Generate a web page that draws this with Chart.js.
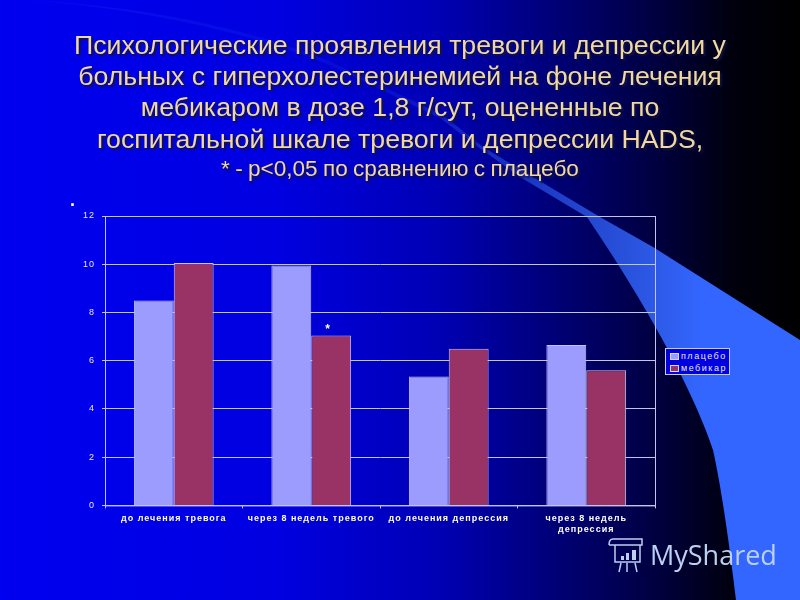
<!DOCTYPE html>
<html>
<head>
<meta charset="utf-8">
<style>
html, body { margin: 0; padding: 0; }
body { width: 800px; height: 600px; overflow: hidden; position: relative; background: linear-gradient(90deg, #0000f0 0%, #0000e0 35%, #0000b4 55%, #000074 70%, #000040 82%, #00000c 92%, #000000 100%); font-family: "Liberation Sans", Arial, sans-serif; }
#decor { position: absolute; left: 0; top: 0; }
#chartBox { position: absolute; left: 0; top: 0; width: 800px; height: 600px; }
.title { position: absolute; left: 0; width: 800px; text-align: center; color: #f0d8a0; text-shadow: 2px 2px 2px #14143c; white-space: nowrap; }
.t1 { font-size: 26.7px; line-height: 31.2px; top: 30px; }
.t2 { font-size: 22.6px; line-height: 24px; top: 157px; word-spacing: -1px; }
#dot { position: absolute; left: 70px; top: 190px; color: #fff; font-size: 18px; font-weight: bold; }
#legend { position: absolute; left: 665px; top: 348px; width: 65px; height: 27px; box-sizing: border-box; border: 1px solid #c8c8f0; background: #0000e0; color: #e8e8ff; font-size: 9px; letter-spacing: 1.5px; padding-top: 1px; }
#legend div { height: 12px; line-height: 12px; padding-left: 15px; position: relative; }
#legend i { position: absolute; left: 4px; top: 3px; width: 7px; height: 5px; border: 1px solid #d8d8f4; }
#wm { position: absolute; left: 650px; top: 536px; font-family: "Open Sans", sans-serif; font-size: 27px; color: #bcd0f0; }
</style>
</head>
<body>
<svg id="decor" width="800" height="600" viewBox="0 0 800 600">
  <defs>
    <linearGradient id="sw" gradientUnits="userSpaceOnUse" x1="380" y1="0" x2="700" y2="0">
      <stop offset="0" stop-color="#3366ff" stop-opacity="0.12"/>
      <stop offset="1" stop-color="#3366ff" stop-opacity="1"/>
    </linearGradient>
  </defs>
  <path d="M30 0 Q 200 10 327 60 L 443 115 L 483 147 L 600 217 L 653 247 L 800 340 L 800 600 L 736 600 C 730 550 722 490 713 450 C 695 395 650 310 587 217 L 520 177 L 478 147 L 440 118 L 327 64 Q 200 14 30 0 Z" fill="url(#sw)"/>
  <g fill="none" stroke="#bcd0f0" stroke-width="1.5">
    <path d="M609 545 h33 v-6 h-29 q-4 0 -4 6 M615 545 v17 h25 v-17 M621 563 l-2 9 M627 563 v9 M635 563 l2 9"/>
  </g>
  <g fill="#bcd0f0">
    <rect x="621" y="556" width="3" height="4"/>
    <rect x="626" y="553" width="3" height="7"/>
    <rect x="632" y="550" width="4" height="10"/>
  </g>
</svg>
<div id="chartBox"><canvas id="chart" width="800" height="600"></canvas></div>
<div class="title t1">Психологические проявления тревоги и депрессии у<br>больных с гиперхолестеринемией на фоне лечения<br>мебикаром в дозе 1,8 г/сут, оцененные по<br>госпитальной шкале тревоги и депрессии HADS,</div>
<div class="title t2">* - p&lt;0,05 по сравнению с плацебо</div>
<div id="dot">.</div>
<div id="legend"></div>
<div id="wm">MyShared</div>

<script src="https://cdn.jsdelivr.net/npm/chart.js@4"></script>
<script>
// Данные диаграммы
const categories = ['до лечения тревога', 'через 8 недель тревого', 'до лечения депрессия', ['через 8 недель', 'депрессия']];
const placebo = [8.5, 9.95, 5.35, 6.65];
const mebikar = [10.05, 7.05, 6.5, 5.6];
const mebikarMarks = ['', '*', '', ''];
const yTicks = [0, 2, 4, 6, 8, 10, 12];
const seriesNames = ['плацебо', 'мебикар'];
const seriesColors = ['#9c9cff', '#993366'];

const lineColor = '#c4c4f0';

// Легенда
const legend = document.getElementById('legend');
seriesNames.forEach(function(name, i) {
    const row = document.createElement('div');
    const box = document.createElement('i');
    box.style.background = seriesColors[i];
    row.appendChild(box);
    row.appendChild(document.createTextNode(name));
    legend.appendChild(row);
});

// Рамка области, звёздочка над столбцом и межбуквенный интервал подписей
const marksPlugin = {
    id: 'marks',
    beforeDraw(chart) {
        chart.ctx.letterSpacing = '1px';
    },
    beforeDatasetsDraw(chart) {
        const ctx = chart.ctx;
        const area = chart.chartArea;
        ctx.save();
        ctx.strokeStyle = lineColor;
        ctx.lineWidth = 1;
        ctx.strokeRect(area.left + 0.5, area.top + 0.5, area.right - area.left, area.bottom - area.top);
        ctx.restore();
    },
    afterDatasetsDraw(chart) {
        const ctx = chart.ctx;
        const bars = chart.getDatasetMeta(1).data;
        ctx.save();
        ctx.fillStyle = '#ffffff';
        ctx.font = 'bold 12px "Liberation Sans"';
        ctx.textAlign = 'center';
        mebikarMarks.forEach(function(mark, i) {
            if (mark) ctx.fillText(mark, bars[i].x - 3, bars[i].y - 2);
        });
        ctx.restore();
    }
};

new Chart(document.getElementById('chart'), {
    type: 'bar',
    data: {
        labels: categories,
        datasets: seriesNames.map(function(name, i) {
            return {
                label: name,
                data: i === 0 ? placebo : mebikar,
                backgroundColor: seriesColors[i],
                borderColor: lineColor,
                borderWidth: 1
            };
        })
    },
    options: {
        responsive: false,
        animation: false,
        layout: { padding: { left: 78, right: 145, top: 216, bottom: 60 } },
        plugins: { legend: { display: false }, tooltip: { enabled: false } },
        datasets: { bar: { categoryPercentage: 0.58, barPercentage: 1 } },
        scales: {
            x: {
                grid: { color: lineColor, drawOnChartArea: false, tickLength: 3 },
                border: { color: lineColor },
                ticks: { color: '#ffffff', font: { family: 'Liberation Sans', size: 9, weight: 'bold' }, maxRotation: 0, autoSkip: false, padding: 5 }
            },
            y: {
                min: 0,
                max: 12,
                afterBuildTicks(axis) {
                    axis.ticks = yTicks.map(function(v) { return { value: v }; });
                },
                grid: { color: lineColor, tickLength: 3 },
                border: { color: lineColor },
                ticks: { color: '#e8e8ff', font: { family: 'Liberation Sans', size: 9 }, padding: 7 }
            }
        }
    },
    plugins: [marksPlugin]
});
</script>
</body>
</html>
